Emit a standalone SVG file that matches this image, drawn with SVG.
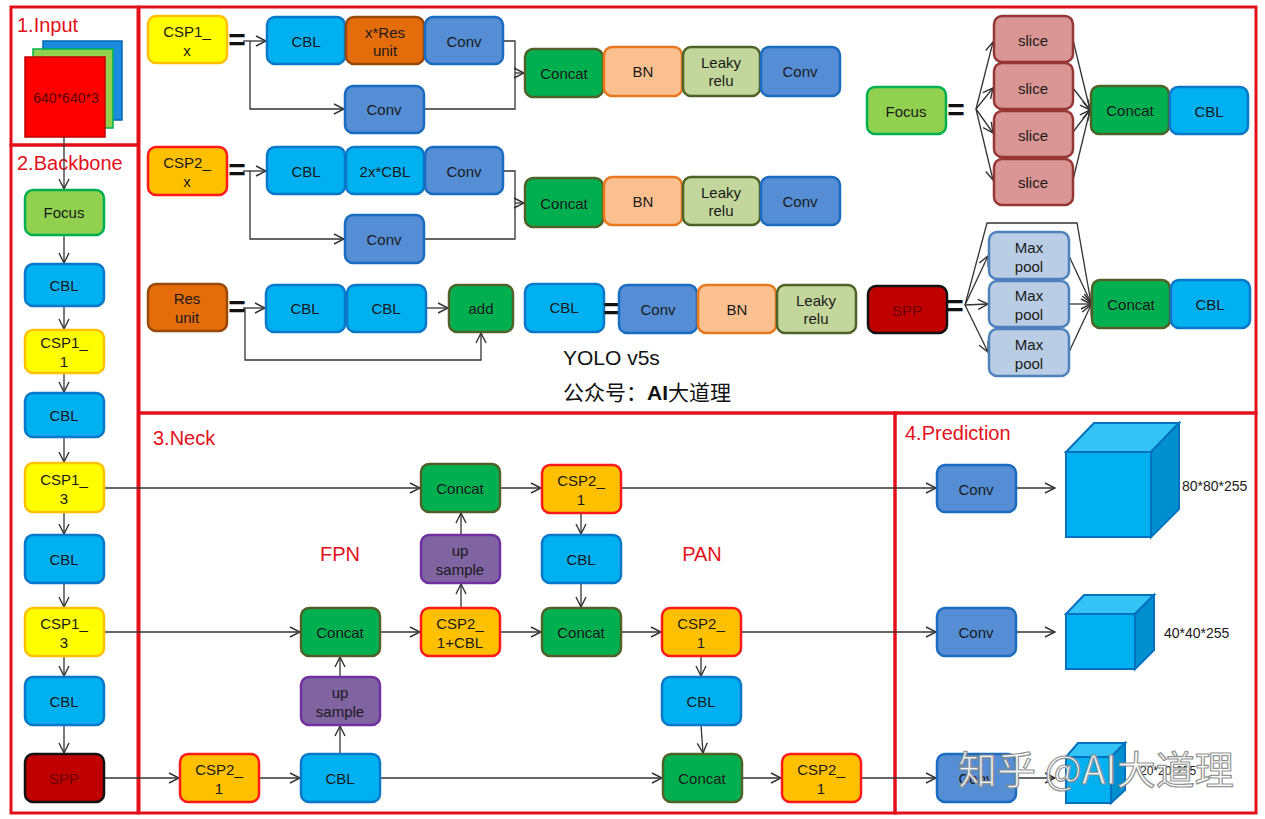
<svg xmlns="http://www.w3.org/2000/svg" width="1265" height="819" viewBox="0 0 1265 819">
<style>
.frame{fill:none;stroke:#e3101a;stroke-width:3}
.n rect{stroke-width:2.5}
.t{font-family:"Liberation Sans",Arial,sans-serif;font-size:15px;text-anchor:middle;dominant-baseline:central;fill:#1a1a1a}
.sec{font-family:"Liberation Sans",Arial,sans-serif;font-size:20px;fill:#e3101a}
.eq{font-family:"Liberation Sans",Arial,sans-serif;font-size:30px;font-weight:bold;fill:#111;text-anchor:middle;dominant-baseline:central}
.cbl rect{fill:#00b0f0;stroke:#0a78c8}
.conv rect{fill:#558ed5;stroke:#1a6cc0}
.concat rect{fill:#00b050;stroke:#4f6228}
.bn rect{fill:#fac090;stroke:#e8781e}
.leaky rect{fill:#c3d69b;stroke:#4f6228}
.csp1 rect{fill:#ffff00;stroke:#ffc000}
.csp2 rect{fill:#ffc000;stroke:#ff1a1a}
.res rect{fill:#e46c0a;stroke:#984807}
.focus rect{fill:#92d050;stroke:#00b050}
.slice rect{fill:#d99694;stroke:#953735}
.pool rect{fill:#b9cde5;stroke:#4f81bd}
.spp rect{fill:#c00000;stroke:#111}
.spp text{fill:#6a0000}
.up rect{fill:#8064a2;stroke:#7030a0}
.c path{fill:none;stroke:#333;stroke-width:1.3}
.c .a{marker-end:url(#ar)}
.cube .f{fill:#00b0f0;stroke:#0070c0;stroke-width:2}
.cube .tp{fill:#33c3f4;stroke:#0070c0;stroke-width:2}
.cube .sd{fill:#0090d0;stroke:#0070c0;stroke-width:2}
.lbl{font-family:"Liberation Sans",Arial,sans-serif;font-size:14px;fill:#1a1a1a;dominant-baseline:central}
</style>
<defs>
<marker id="ar" markerUnits="userSpaceOnUse" markerWidth="12" markerHeight="12" refX="11" refY="6" orient="auto">
<path d="M1,1 L11,6 L1,11" fill="none" stroke="#333" stroke-width="1.4"/>
</marker>
</defs>
<rect width="1265" height="819" fill="#fff"/>

<!-- frames -->
<rect class="frame" x="11" y="7" width="127" height="138"/>
<rect class="frame" x="11" y="145" width="127" height="668"/>
<rect class="frame" x="139" y="7" width="1117" height="406"/>
<rect class="frame" x="139" y="413" width="756" height="400"/>
<rect class="frame" x="895" y="413" width="361" height="400"/>
<text class="sec" x="17" y="32">1.Input</text>
<text class="sec" x="17" y="170">2.Backbone</text>
<text class="sec" x="153" y="445">3.Neck</text>
<text class="sec" x="905" y="440">4.Prediction</text>
<text class="sec" x="340" y="561" text-anchor="middle">FPN</text>
<text class="sec" x="702" y="561" text-anchor="middle">PAN</text>

<!-- input -->
<g id="input">
<rect x="43" y="41" width="79" height="79" fill="#1b8ce0" stroke="#0a64b0" stroke-width="1.5"/>
<rect x="33" y="49" width="80" height="79" fill="#92d050" stroke="#00b050" stroke-width="1.5"/>
<rect x="25" y="57" width="80" height="80" fill="#ff0000" stroke="#c00000" stroke-width="1.5"/>
<text class="t" x="66" y="98" style="font-size:14px;fill:#5a0000">640*640*3</text>
</g>

<!-- connectors -->
<g id="connectors" class="c">
<path class="a" d="M64,137 V189"/>
<path class="a" d="M64,235 V263"/>
<path class="a" d="M64,306 V329"/>
<path class="a" d="M64,373 V392"/>
<path class="a" d="M64,437 V462"/>
<path class="a" d="M64,512 V534"/>
<path class="a" d="M64,583 V607"/>
<path class="a" d="M64,656 V676"/>
<path class="a" d="M64,725 V753"/>
<path class="a" d="M243,41 H266"/>
<path class="a" d="M250,41 V109 H344"/>
<path d="M503,41 H515 V109 H424"/>
<path class="a" d="M515,73 H524"/>
<path class="a" d="M243,171 H266"/>
<path class="a" d="M250,171 V239 H344"/>
<path d="M503,171 H515 V239 H424"/>
<path class="a" d="M515,203 H524"/>
<path class="a" d="M243,308 H265"/>
<path class="a" d="M245,308 V360 H481 V333"/>
<path class="a" d="M426,308 H448"/>
<path class="a" d="M976,109 L993,42"/>
<path class="a" d="M976,109 L993,88"/>
<path class="a" d="M976,109 L993,133"/>
<path class="a" d="M976,109 L993,180"/>
<path class="a" d="M1073,40 L1090,110"/>
<path class="a" d="M1073,88 L1090,110"/>
<path class="a" d="M1073,132 L1090,110"/>
<path class="a" d="M1073,180 L1090,110"/>
<path class="a" d="M965,305 L988,256"/>
<path class="a" d="M965,305 L988,304"/>
<path class="a" d="M965,305 L988,352"/>
<path class="a" d="M965,305 L987,223 H1077 L1091,303"/>
<path class="a" d="M1069,256 L1091,303"/>
<path class="a" d="M1069,304 L1091,304"/>
<path class="a" d="M1069,352 L1091,305"/>
<path class="a" d="M104,488 H420"/>
<path class="a" d="M104,632 H300"/>
<path class="a" d="M104,778 H179"/>
<path class="a" d="M259,778 H300"/>
<path class="a" d="M340,754 V726"/>
<path class="a" d="M340,677 V657"/>
<path class="a" d="M380,632 H420"/>
<path class="a" d="M461,608 V584"/>
<path class="a" d="M461,535 V513"/>
<path class="a" d="M500,488 H541"/>
<path class="a" d="M581,513 V534"/>
<path class="a" d="M581,583 V607"/>
<path class="a" d="M500,632 H541"/>
<path class="a" d="M621,632 H661"/>
<path class="a" d="M701,656 V676"/>
<path class="a" d="M701,725 L703,753"/>
<path class="a" d="M380,778 H662"/>
<path class="a" d="M742,778 H781"/>
<path class="a" d="M621,488 H936"/>
<path class="a" d="M741,632 H936"/>
<path class="a" d="M861,778 H936"/>
<path class="a" d="M1016,488 H1055"/>
<path class="a" d="M1016,632 H1055"/>
<path class="a" d="M1016,778 H1055"/>
</g>

<!-- backbone nodes -->
<g id="bb-focus" class="n focus"><rect x="25" y="190" width="79" height="45" rx="8"/><text class="t" x="64" y="212">Focus</text></g>
<g id="bb-cbl1" class="n cbl"><rect x="25" y="264" width="79" height="42" rx="8"/><text class="t" x="64" y="285">CBL</text></g>
<g id="bb-csp1-1" class="n csp1"><rect x="25" y="330" width="79" height="43" rx="8"/><text class="t" x="64" y="342">CSP1_</text><text class="t" x="64" y="361">1</text></g>
<g id="bb-cbl2" class="n cbl"><rect x="25" y="393" width="79" height="44" rx="8"/><text class="t" x="64" y="415">CBL</text></g>
<g id="bb-csp1-3a" class="n csp1"><rect x="25" y="463" width="79" height="49" rx="8"/><text class="t" x="64" y="479">CSP1_</text><text class="t" x="64" y="498">3</text></g>
<g id="bb-cbl3" class="n cbl"><rect x="25" y="535" width="79" height="48" rx="8"/><text class="t" x="64" y="559">CBL</text></g>
<g id="bb-csp1-3b" class="n csp1"><rect x="25" y="608" width="79" height="48" rx="8"/><text class="t" x="64" y="623">CSP1_</text><text class="t" x="64" y="642">3</text></g>
<g id="bb-cbl4" class="n cbl"><rect x="25" y="677" width="79" height="48" rx="8"/><text class="t" x="64" y="701">CBL</text></g>
<g id="bb-spp" class="n spp"><rect x="25" y="754" width="79" height="48" rx="8"/><text class="t" x="64" y="778">SPP</text></g>

<!-- definitions row 1 -->
<g id="d-csp1x" class="n csp1"><rect x="148" y="16" width="79" height="47" rx="8"/><text class="t" x="187" y="31">CSP1_</text><text class="t" x="187" y="50">x</text></g>
<text class="eq" x="237" y="39">=</text>
<g id="d1-cbl" class="n cbl"><rect x="267" y="17" width="78" height="47" rx="8"/><text class="t" x="306" y="41">CBL</text></g>
<g id="d1-res" class="n res"><rect x="346" y="17" width="78" height="47" rx="8"/><text class="t" x="385" y="32">x*Res</text><text class="t" x="385" y="50">unit</text></g>
<g id="d1-conv" class="n conv"><rect x="425" y="17" width="78" height="47" rx="8"/><text class="t" x="464" y="41">Conv</text></g>
<g id="d1-conv2" class="n conv"><rect x="345" y="86" width="79" height="47" rx="8"/><text class="t" x="384" y="109">Conv</text></g>
<g id="d1-concat" class="n concat"><rect x="525" y="49" width="78" height="48" rx="8"/><text class="t" x="564" y="73">Concat</text></g>
<g id="d1-bn" class="n bn"><rect x="604" y="47" width="78" height="49" rx="8"/><text class="t" x="643" y="71">BN</text></g>
<g id="d1-leaky" class="n leaky"><rect x="683" y="47" width="77" height="49" rx="8"/><text class="t" x="721" y="62">Leaky</text><text class="t" x="721" y="80">relu</text></g>
<g id="d1-conv3" class="n conv"><rect x="761" y="47" width="79" height="49" rx="8"/><text class="t" x="800" y="71">Conv</text></g>

<!-- definitions row 2 -->
<g id="d-csp2x" class="n csp2"><rect x="148" y="147" width="79" height="48" rx="8"/><text class="t" x="187" y="162">CSP2_</text><text class="t" x="187" y="181">x</text></g>
<text class="eq" x="237" y="169">=</text>
<g id="d2-cbl" class="n cbl"><rect x="267" y="147" width="78" height="47" rx="8"/><text class="t" x="306" y="171">CBL</text></g>
<g id="d2-2cbl" class="n cbl"><rect x="346" y="147" width="78" height="47" rx="8"/><text class="t" x="385" y="171">2x*CBL</text></g>
<g id="d2-conv" class="n conv"><rect x="425" y="147" width="78" height="47" rx="8"/><text class="t" x="464" y="171">Conv</text></g>
<g id="d2-conv2" class="n conv"><rect x="345" y="215" width="79" height="48" rx="8"/><text class="t" x="384" y="239">Conv</text></g>
<g id="d2-concat" class="n concat"><rect x="525" y="178" width="78" height="49" rx="8"/><text class="t" x="564" y="203">Concat</text></g>
<g id="d2-bn" class="n bn"><rect x="604" y="177" width="78" height="48" rx="8"/><text class="t" x="643" y="201">BN</text></g>
<g id="d2-leaky" class="n leaky"><rect x="683" y="177" width="77" height="48" rx="8"/><text class="t" x="721" y="192">Leaky</text><text class="t" x="721" y="210">relu</text></g>
<g id="d2-conv3" class="n conv"><rect x="761" y="177" width="79" height="48" rx="8"/><text class="t" x="800" y="201">Conv</text></g>

<!-- definitions row 3 -->
<g id="d-res" class="n res"><rect x="148" y="284" width="79" height="47" rx="8"/><text class="t" x="187" y="298">Res</text><text class="t" x="187" y="317">unit</text></g>
<text class="eq" x="237" y="306">=</text>
<g id="d3-cbl1" class="n cbl"><rect x="266" y="285" width="79" height="47" rx="8"/><text class="t" x="305" y="308">CBL</text></g>
<g id="d3-cbl2" class="n cbl"><rect x="347" y="285" width="79" height="47" rx="8"/><text class="t" x="386" y="308">CBL</text></g>
<g id="d3-add" class="n concat"><rect x="449" y="285" width="64" height="47" rx="8"/><text class="t" x="481" y="308">add</text></g>
<g id="d-cbl" class="n cbl"><rect x="525" y="284" width="79" height="48" rx="8"/><text class="t" x="564" y="307">CBL</text></g>
<text class="eq" x="612" y="308">=</text>
<g id="d4-conv" class="n conv"><rect x="619" y="285" width="78" height="48" rx="8"/><text class="t" x="658" y="309">Conv</text></g>
<g id="d4-bn" class="n bn"><rect x="698" y="285" width="78" height="48" rx="8"/><text class="t" x="737" y="309">BN</text></g>
<g id="d4-leaky" class="n leaky"><rect x="777" y="285" width="79" height="48" rx="8"/><text class="t" x="816" y="300">Leaky</text><text class="t" x="816" y="318">relu</text></g>
<text x="563" y="365" style="font-family:'Liberation Sans',Arial,sans-serif;font-size:21px;fill:#111">YOLO v5s</text>
<text x="563" y="400" style="font-family:'Liberation Sans','Noto Sans CJK SC',sans-serif;font-size:21px;fill:#111">公众号：<tspan font-weight="bold">AI</tspan>大道理</text>

<!-- focus def -->
<g id="d-focus" class="n focus"><rect x="867" y="87" width="79" height="47" rx="8"/><text class="t" x="906" y="111">Focus</text></g>
<text class="eq" x="956" y="109">=</text>
<g id="slice1" class="n slice"><rect x="994" y="16" width="79" height="46" rx="8"/><text class="t" x="1033" y="40">slice</text></g>
<g id="slice2" class="n slice"><rect x="994" y="63" width="79" height="46" rx="8"/><text class="t" x="1033" y="88">slice</text></g>
<g id="slice3" class="n slice"><rect x="994" y="111" width="79" height="46" rx="8"/><text class="t" x="1033" y="135">slice</text></g>
<g id="slice4" class="n slice"><rect x="994" y="159" width="79" height="46" rx="8"/><text class="t" x="1033" y="182">slice</text></g>
<g id="f-concat" class="n concat"><rect x="1091" y="86" width="78" height="48" rx="8"/><text class="t" x="1130" y="110">Concat</text></g>
<g id="f-cbl" class="n cbl"><rect x="1170" y="87" width="78" height="47" rx="8"/><text class="t" x="1209" y="111">CBL</text></g>

<!-- spp def -->
<g id="d-spp" class="n spp"><rect x="868" y="286" width="79" height="47" rx="8"/><text class="t" x="907" y="310">SPP</text></g>
<text class="eq" x="955" y="305">=</text>
<g id="pool1" class="n pool"><rect x="989" y="232" width="80" height="47" rx="8"/><text class="t" x="1029" y="247">Max</text><text class="t" x="1029" y="266">pool</text></g>
<g id="pool2" class="n pool"><rect x="989" y="281" width="80" height="46" rx="8"/><text class="t" x="1029" y="295">Max</text><text class="t" x="1029" y="314">pool</text></g>
<g id="pool3" class="n pool"><rect x="989" y="329" width="80" height="47" rx="8"/><text class="t" x="1029" y="344">Max</text><text class="t" x="1029" y="363">pool</text></g>
<g id="s-concat" class="n concat"><rect x="1092" y="280" width="78" height="48" rx="8"/><text class="t" x="1131" y="304">Concat</text></g>
<g id="s-cbl" class="n cbl"><rect x="1171" y="280" width="79" height="48" rx="8"/><text class="t" x="1210" y="304">CBL</text></g>

<!-- neck -->
<g id="nk-csp2a" class="n csp2"><rect x="180" y="754" width="79" height="48" rx="8"/><text class="t" x="219" y="769">CSP2_</text><text class="t" x="219" y="788">1</text></g>
<g id="nk-cbl1" class="n cbl"><rect x="301" y="754" width="79" height="48" rx="8"/><text class="t" x="340" y="778">CBL</text></g>
<g id="nk-up1" class="n up"><rect x="301" y="677" width="79" height="48" rx="8"/><text class="t" x="340" y="692">up</text><text class="t" x="340" y="711">sample</text></g>
<g id="nk-concat1" class="n concat"><rect x="301" y="608" width="79" height="48" rx="8"/><text class="t" x="340" y="632">Concat</text></g>
<g id="nk-csp2cbl" class="n csp2"><rect x="421" y="608" width="79" height="48" rx="8"/><text class="t" x="460" y="623">CSP2_</text><text class="t" x="460" y="642">1+CBL</text></g>
<g id="nk-up2" class="n up"><rect x="421" y="535" width="79" height="48" rx="8"/><text class="t" x="460" y="550">up</text><text class="t" x="460" y="569">sample</text></g>
<g id="nk-concat2" class="n concat"><rect x="421" y="464" width="79" height="48" rx="8"/><text class="t" x="460" y="488">Concat</text></g>
<g id="nk-csp2b" class="n csp2"><rect x="542" y="465" width="79" height="48" rx="8"/><text class="t" x="581" y="480">CSP2_</text><text class="t" x="581" y="499">1</text></g>
<g id="nk-cbl2" class="n cbl"><rect x="542" y="535" width="79" height="48" rx="8"/><text class="t" x="581" y="559">CBL</text></g>
<g id="nk-concat3" class="n concat"><rect x="542" y="608" width="79" height="48" rx="8"/><text class="t" x="581" y="632">Concat</text></g>
<g id="nk-csp2c" class="n csp2"><rect x="662" y="608" width="79" height="48" rx="8"/><text class="t" x="701" y="623">CSP2_</text><text class="t" x="701" y="642">1</text></g>
<g id="nk-cbl3" class="n cbl"><rect x="662" y="677" width="79" height="48" rx="8"/><text class="t" x="701" y="701">CBL</text></g>
<g id="nk-concat4" class="n concat"><rect x="663" y="754" width="79" height="48" rx="8"/><text class="t" x="702" y="778">Concat</text></g>
<g id="nk-csp2d" class="n csp2"><rect x="782" y="754" width="79" height="48" rx="8"/><text class="t" x="821" y="769">CSP2_</text><text class="t" x="821" y="788">1</text></g>

<!-- prediction -->
<g id="pr-conv1" class="n conv"><rect x="937" y="465" width="79" height="47" rx="8"/><text class="t" x="976" y="489">Conv</text></g>
<g id="pr-conv2" class="n conv"><rect x="937" y="608" width="79" height="48" rx="8"/><text class="t" x="976" y="632">Conv</text></g>
<g id="pr-conv3" class="n conv"><rect x="937" y="754" width="79" height="48" rx="8"/><text class="t" x="976" y="778">Conv</text></g>
<g id="cube1" class="cube">
<polygon class="tp" points="1066,452 1094,423 1179,423 1151,452"/>
<polygon class="sd" points="1151,452 1179,423 1179,509 1151,537"/>
<rect class="f" x="1066" y="452" width="85" height="85"/>
</g>
<text class="lbl" x="1182" y="486">80*80*255</text>
<g id="cube2" class="cube">
<polygon class="tp" points="1066,614 1084,595 1154,595 1135,614"/>
<polygon class="sd" points="1135,614 1154,595 1154,650 1135,669"/>
<rect class="f" x="1066" y="614" width="69" height="55"/>
</g>
<text class="lbl" x="1164" y="633">40*40*255</text>
<g id="cube3" class="cube">
<polygon class="tp" points="1066,757 1078,743 1125,743 1111,757"/>
<polygon class="sd" points="1111,757 1125,743 1125,790 1111,803"/>
<rect class="f" x="1066" y="757" width="45" height="46"/>
</g>
<text class="lbl" x="1140" y="771" style="font-size:12px">20*20*255</text>

<!-- watermark -->
<text x="958" y="784" style="font-family:'Noto Sans CJK SC',sans-serif;font-size:39px;fill:#ffffff;stroke:#8a8a8a;stroke-width:1.2;opacity:0.92">知乎 @AI大道理</text>
</svg>
